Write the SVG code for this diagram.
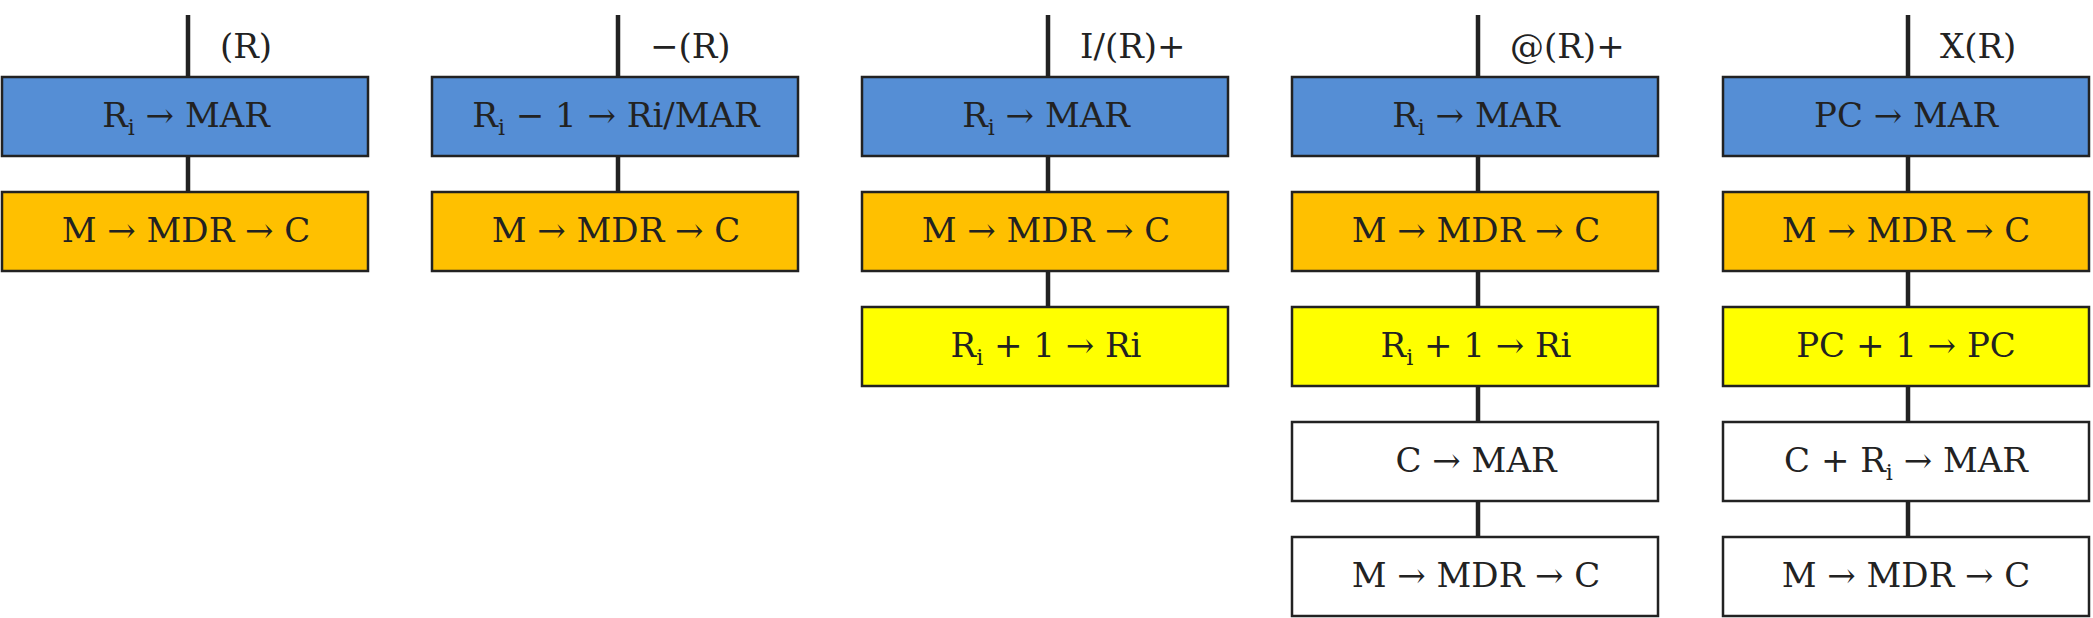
<svg xmlns="http://www.w3.org/2000/svg" width="2093" height="618" viewBox="0 0 2093 618">
<style>
rect{stroke:#222;stroke-width:2.5}
.b{fill:#558ED5}.o{fill:#FFC000}.y{fill:#FFFF00}.w{fill:#fff}
text{font-family:"DejaVu Serif","Liberation Serif",serif;font-size:34px;fill:#222;text-anchor:middle}
.l{text-anchor:start}
.s{font-size:22px}
line{stroke:#222;stroke-width:4.5}
</style>
<g id="connectors">
<line x1="188" y1="15" x2="188" y2="192"/>
<line x1="618" y1="15" x2="618" y2="192"/>
<line x1="1048" y1="15" x2="1048" y2="307"/>
<line x1="1478" y1="15" x2="1478" y2="537"/>
<line x1="1908" y1="15" x2="1908" y2="537"/>
</g>
<g id="labels">
<text class="l" x="220" y="58">(R)</text>
<text class="l" x="650" y="58">−(R)</text>
<text class="l" x="1080" y="58">I/(R)+</text>
<text class="l" x="1510" y="58">@(R)+</text>
<text class="l" x="1940" y="58">X(R)</text>
</g>
<g id="c1">
<g id="n1a"><rect class="b" x="2" y="77" width="366" height="79"/><text x="186" y="127">R<tspan class="s" dy="8">i</tspan><tspan dy="-8"> → MAR</tspan></text></g>
<g id="n1b"><rect class="o" x="2" y="192" width="366" height="79"/><text x="186" y="242">M → MDR → C</text></g>
</g>
<g id="c2">
<g id="n2a"><rect class="b" x="432" y="77" width="366" height="79"/><text x="616" y="127">R<tspan class="s" dy="8">i</tspan><tspan dy="-8"> − 1 → Ri/MAR</tspan></text></g>
<g id="n2b"><rect class="o" x="432" y="192" width="366" height="79"/><text x="616" y="242">M → MDR → C</text></g>
</g>
<g id="c3">
<g id="n3a"><rect class="b" x="862" y="77" width="366" height="79"/><text x="1046" y="127">R<tspan class="s" dy="8">i</tspan><tspan dy="-8"> → MAR</tspan></text></g>
<g id="n3b"><rect class="o" x="862" y="192" width="366" height="79"/><text x="1046" y="242">M → MDR → C</text></g>
<g id="n3c"><rect class="y" x="862" y="307" width="366" height="79"/><text x="1046" y="357">R<tspan class="s" dy="8">i</tspan><tspan dy="-8"> + 1 → Ri</tspan></text></g>
</g>
<g id="c4">
<g id="n4a"><rect class="b" x="1292" y="77" width="366" height="79"/><text x="1476" y="127">R<tspan class="s" dy="8">i</tspan><tspan dy="-8"> → MAR</tspan></text></g>
<g id="n4b"><rect class="o" x="1292" y="192" width="366" height="79"/><text x="1476" y="242">M → MDR → C</text></g>
<g id="n4c"><rect class="y" x="1292" y="307" width="366" height="79"/><text x="1476" y="357">R<tspan class="s" dy="8">i</tspan><tspan dy="-8"> + 1 → Ri</tspan></text></g>
<g id="n4d"><rect class="w" x="1292" y="422" width="366" height="79"/><text x="1476" y="472">C → MAR</text></g>
<g id="n4e"><rect class="w" x="1292" y="537" width="366" height="79"/><text x="1476" y="587">M → MDR → C</text></g>
</g>
<g id="c5">
<g id="n5a"><rect class="b" x="1723" y="77" width="366" height="79"/><text x="1906" y="127">PC → MAR</text></g>
<g id="n5b"><rect class="o" x="1723" y="192" width="366" height="79"/><text x="1906" y="242">M → MDR → C</text></g>
<g id="n5c"><rect class="y" x="1723" y="307" width="366" height="79"/><text x="1906" y="357">PC + 1 → PC</text></g>
<g id="n5d"><rect class="w" x="1723" y="422" width="366" height="79"/><text x="1906" y="472">C + R<tspan class="s" dy="8">i</tspan><tspan dy="-8"> → MAR</tspan></text></g>
<g id="n5e"><rect class="w" x="1723" y="537" width="366" height="79"/><text x="1906" y="587">M → MDR → C</text></g>
</g>
</svg>
